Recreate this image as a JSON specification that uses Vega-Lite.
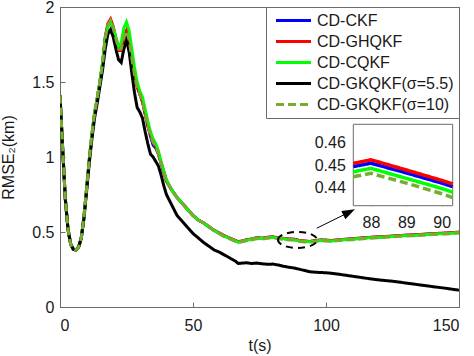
{
  "$schema": "https://vega.github.io/schema/vega-lite/v6.json",
  "width": 399,
  "height": 300,
  "autosize": {"type": "none"},
  "padding": {"left": 60, "top": 7, "right": 15, "bottom": 49},
  "config": {
    "font": "Liberation Sans",
    "view": {"stroke": "#6b6b6b", "strokeWidth": 1},
    "axis": {"grid": false, "domainColor": "#6b6b6b", "tickColor": "#6b6b6b", "labelColor": "#1a1a1a", "labelFontSize": 16, "titleFontSize": 16, "titleFontWeight": "normal", "titleColor": "#1a1a1a", "labelFont": "Liberation Sans", "titleFont": "Liberation Sans"},
    "legend": {"labelFont": "Liberation Sans", "labelFontSize": 16, "labelColor": "#1a1a1a"}
  },
  "datasets": {
    "main": [
      {"t":0,"b":1.41,"r":1.41,"g":1.41,"k":1.41,"o":1.41},
      {"t":1,"b":1.06,"r":1.06,"g":1.06,"k":1.05,"o":1.06},
      {"t":2,"b":0.72,"r":0.72,"g":0.72,"k":0.72,"o":0.72},
      {"t":3,"b":0.52,"r":0.52,"g":0.52,"k":0.52,"o":0.52},
      {"t":4,"b":0.42,"r":0.42,"g":0.42,"k":0.42,"o":0.42},
      {"t":5,"b":0.385,"r":0.385,"g":0.385,"k":0.385,"o":0.385},
      {"t":6,"b":0.38,"r":0.38,"g":0.38,"k":0.38,"o":0.38},
      {"t":7,"b":0.40,"r":0.40,"g":0.40,"k":0.40,"o":0.40},
      {"t":8,"b":0.46,"r":0.46,"g":0.46,"k":0.46,"o":0.46},
      {"t":9,"b":0.60,"r":0.60,"g":0.60,"k":0.59,"o":0.60},
      {"t":10,"b":0.79,"r":0.79,"g":0.79,"k":0.77,"o":0.79},
      {"t":11,"b":0.98,"r":0.98,"g":0.98,"k":0.96,"o":0.98},
      {"t":12,"b":1.15,"r":1.15,"g":1.15,"k":1.12,"o":1.15},
      {"t":13,"b":1.29,"r":1.29,"g":1.29,"k":1.26,"o":1.29},
      {"t":14,"b":1.39,"r":1.39,"g":1.39,"k":1.36,"o":1.39},
      {"t":15,"b":1.50,"r":1.50,"g":1.50,"k":1.47,"o":1.50},
      {"t":16,"b":1.62,"r":1.62,"g":1.63,"k":1.58,"o":1.62},
      {"t":17,"b":1.79,"r":1.80,"g":1.79,"k":1.72,"o":1.79},
      {"t":18,"b":1.88,"r":1.89,"g":1.87,"k":1.82,"o":1.88},
      {"t":19,"b":1.91,"r":1.92,"g":1.90,"k":1.85,"o":1.91},
      {"t":20,"b":1.86,"r":1.87,"g":1.86,"k":1.80,"o":1.86},
      {"t":21,"b":1.79,"r":1.79,"g":1.80,"k":1.72,"o":1.79},
      {"t":22,"b":1.72,"r":1.71,"g":1.74,"k":1.65,"o":1.72},
      {"t":23,"b":1.72,"r":1.71,"g":1.76,"k":1.63,"o":1.72},
      {"t":24,"b":1.80,"r":1.79,"g":1.86,"k":1.72,"o":1.80},
      {"t":25,"b":1.84,"r":1.84,"g":1.90,"k":1.78,"o":1.84},
      {"t":26,"b":1.78,"r":1.78,"g":1.84,"k":1.70,"o":1.78},
      {"t":27,"b":1.66,"r":1.66,"g":1.72,"k":1.56,"o":1.66},
      {"t":28,"b":1.55,"r":1.55,"g":1.60,"k":1.43,"o":1.55},
      {"t":29,"b":1.47,"r":1.47,"g":1.50,"k":1.33,"o":1.47},
      {"t":30,"b":1.42,"r":1.42,"g":1.44,"k":1.30,"o":1.42},
      {"t":31,"b":1.37,"r":1.37,"g":1.40,"k":1.26,"o":1.37},
      {"t":32,"b":1.29,"r":1.29,"g":1.32,"k":1.17,"o":1.29},
      {"t":33,"b":1.21,"r":1.21,"g":1.24,"k":1.09,"o":1.21},
      {"t":34,"b":1.14,"r":1.15,"g":1.17,"k":1.02,"o":1.15},
      {"t":35,"b":1.08,"r":1.10,"g":1.12,"k":1.00,"o":1.10},
      {"t":36,"b":1.06,"r":1.07,"g":1.09,"k":0.97,"o":1.07},
      {"t":37,"b":1.02,"r":1.02,"g":1.04,"k":0.94,"o":1.02},
      {"t":38,"b":0.96,"r":0.96,"g":0.97,"k":0.88,"o":0.96},
      {"t":39,"b":0.90,"r":0.90,"g":0.91,"k":0.81,"o":0.90},
      {"t":40,"b":0.84,"r":0.84,"g":0.85,"k":0.75,"o":0.84},
      {"t":42,"b":0.78,"r":0.78,"g":0.78,"k":0.68,"o":0.78},
      {"t":44,"b":0.73,"r":0.73,"g":0.73,"k":0.61,"o":0.73},
      {"t":46,"b":0.69,"r":0.69,"g":0.69,"k":0.57,"o":0.69},
      {"t":48,"b":0.65,"r":0.65,"g":0.65,"k":0.53,"o":0.65},
      {"t":50,"b":0.61,"r":0.61,"g":0.61,"k":0.49,"o":0.61},
      {"t":52,"b":0.58,"r":0.58,"g":0.58,"k":0.46,"o":0.58},
      {"t":54,"b":0.56,"r":0.56,"g":0.56,"k":0.43,"o":0.56},
      {"t":56,"b":0.535,"r":0.535,"g":0.535,"k":0.405,"o":0.535},
      {"t":58,"b":0.51,"r":0.51,"g":0.51,"k":0.38,"o":0.51},
      {"t":60,"b":0.492,"r":0.493,"g":0.49,"k":0.365,"o":0.487},
      {"t":62,"b":0.472,"r":0.473,"g":0.47,"k":0.345,"o":0.467},
      {"t":64,"b":0.457,"r":0.458,"g":0.455,"k":0.325,"o":0.452},
      {"t":66,"b":0.442,"r":0.443,"g":0.44,"k":0.305,"o":0.437},
      {"t":67,"b":0.434,"r":0.435,"g":0.432,"k":0.29,"o":0.429},
      {"t":68,"b":0.438,"r":0.439,"g":0.436,"k":0.292,"o":0.433},
      {"t":70,"b":0.447,"r":0.448,"g":0.445,"k":0.295,"o":0.442},
      {"t":72,"b":0.452,"r":0.453,"g":0.45,"k":0.29,"o":0.447},
      {"t":74,"b":0.462,"r":0.463,"g":0.46,"k":0.293,"o":0.457},
      {"t":76,"b":0.457,"r":0.458,"g":0.455,"k":0.288,"o":0.452},
      {"t":78,"b":0.464,"r":0.465,"g":0.462,"k":0.285,"o":0.459},
      {"t":80,"b":0.467,"r":0.468,"g":0.465,"k":0.286,"o":0.462},
      {"t":82,"b":0.46,"r":0.461,"g":0.458,"k":0.28,"o":0.455},
      {"t":84,"b":0.457,"r":0.458,"g":0.455,"k":0.272,"o":0.452},
      {"t":86,"b":0.452,"r":0.453,"g":0.45,"k":0.265,"o":0.447},
      {"t":88,"b":0.451,"r":0.452,"g":0.4485,"k":0.26,"o":0.446},
      {"t":90,"b":0.442,"r":0.443,"g":0.44,"k":0.252,"o":0.437},
      {"t":92,"b":0.439,"r":0.44,"g":0.437,"k":0.243,"o":0.434},
      {"t":94,"b":0.436,"r":0.437,"g":0.434,"k":0.235,"o":0.431},
      {"t":96,"b":0.442,"r":0.443,"g":0.44,"k":0.232,"o":0.437},
      {"t":98,"b":0.446,"r":0.447,"g":0.444,"k":0.23,"o":0.441},
      {"t":100,"b":0.445,"r":0.446,"g":0.443,"k":0.228,"o":0.44},
      {"t":102,"b":0.442,"r":0.443,"g":0.44,"k":0.225,"o":0.437},
      {"t":105,"b":0.448,"r":0.449,"g":0.446,"k":0.218,"o":0.443},
      {"t":110,"b":0.454,"r":0.455,"g":0.452,"k":0.205,"o":0.449},
      {"t":115,"b":0.462,"r":0.463,"g":0.46,"k":0.192,"o":0.457},
      {"t":120,"b":0.467,"r":0.468,"g":0.465,"k":0.18,"o":0.462},
      {"t":125,"b":0.472,"r":0.473,"g":0.47,"k":0.172,"o":0.467},
      {"t":130,"b":0.478,"r":0.479,"g":0.476,"k":0.16,"o":0.473},
      {"t":135,"b":0.482,"r":0.483,"g":0.48,"k":0.148,"o":0.477},
      {"t":140,"b":0.488,"r":0.489,"g":0.486,"k":0.136,"o":0.483},
      {"t":145,"b":0.492,"r":0.493,"g":0.49,"k":0.125,"o":0.487},
      {"t":150,"b":0.498,"r":0.499,"g":0.496,"k":0.112,"o":0.493}
    ],
    "inset": [
      {"t":87.5,"b":0.4493,"r":0.4507,"g":0.4470,"o":0.4448},
      {"t":88,"b":0.4508,"r":0.4523,"g":0.4485,"o":0.4463},
      {"t":89,"b":0.4465,"r":0.4478,"g":0.4441,"o":0.4420},
      {"t":90,"b":0.4420,"r":0.4432,"g":0.4396,"o":0.4373},
      {"t":90.31,"b":0.4404,"r":0.4416,"g":0.4380,"o":0.4356}
    ]
  },
  "layer": [
    {
      "layer": [
        {
          "data": {"name": "main"},
          "transform": [{"fold": ["b", "r", "g", "k", "o"], "as": ["s", "v"]}],
          "mark": {"type": "line", "strokeWidth": 3, "clip": true},
          "encoding": {
            "x": {"field": "t", "type": "quantitative", "scale": {"domain": [0, 150], "nice": false, "zero": false},
                  "axis": {"values": [0, 50, 100, 150], "title": "t(s)", "tickSize": -5, "labelPadding": 15, "titlePadding": 4, "orient": "bottom"}},
            "y": {"field": "v", "type": "quantitative", "scale": {"domain": [0, 2], "nice": false},
                  "axis": {"values": [0, 0.5, 1, 1.5, 2], "format": "~g", "title": "RMSE₂(km)", "tickSize": -5, "labelPadding": 11, "titlePadding": 15, "orient": "left"}},
            "color": {"field": "s", "type": "nominal",
                      "scale": {"domain": ["b", "r", "g", "k", "o"], "range": ["#0000ff", "#ff0000", "#00ff00", "#000000", "#77ac30"]},
                      "legend": {"title": null, "orient": "top-right", "offset": 0, "symbolType": "M-0.5,0H4.5", "symbolSize": 196, "symbolStrokeWidth": 3, "symbolFillColor": "transparent", "labelOffset": 29, "rowPadding": 4, "padding": 5, "strokeColor": "#6b6b6b", "fillColor": "white", "cornerRadius": 0,
                                 "labelExpr": "datum.label == 'b' ? 'CD-CKF' : datum.label == 'r' ? 'CD-GHQKF' : datum.label == 'g' ? 'CD-CQKF' : datum.label == 'k' ? 'CD-GKQKF(σ=5.5)' : 'CD-GKQKF(σ=10)'"}},
            "strokeDash": {"field": "s", "type": "nominal",
                           "scale": {"domain": ["b", "r", "g", "k", "o"], "range": [[1, 0], [1, 0], [1, 0], [1, 0], [8, 4]]},
                           "legend": {"title": null}}
          }
        },
        {
          "data": {"values": [{"t": 89.3, "v": 0.447}]},
          "mark": {"type": "point", "shape": "M-1,0A1,0.41,0,1,1,1,0A1,0.41,0,1,1,-1,0Z", "size": 1521, "filled": false, "stroke": "#000000", "strokeWidth": 2, "strokeDash": [7, 5], "opacity": 1},
          "encoding": {"x": {"field": "t", "type": "quantitative"}, "y": {"field": "v", "type": "quantitative"}}
        },
        {
          "data": {"values": [{"t": 96.5, "v": 0.525, "t2": 108.7, "v2": 0.632}]},
          "mark": {"type": "rule", "stroke": "#000000", "strokeWidth": 1},
          "encoding": {"x": {"field": "t", "type": "quantitative"}, "y": {"field": "v", "type": "quantitative"}, "x2": {"field": "t2"}, "y2": {"field": "v2"}}
        },
        {
          "data": {"values": [{"t": 108.7, "v": 0.632}]},
          "mark": {"type": "point", "shape": "M1,0L-1,-0.7L-1,0.7Z", "size": 169, "filled": true, "fill": "#000000", "angle": 333.6, "opacity": 1},
          "encoding": {"x": {"field": "t", "type": "quantitative"}, "y": {"field": "v", "type": "quantitative"}}
        }
      ]
    },
    {
      "layer": [
        {
          "data": {"values": [{}]},
          "mark": {"type": "rect", "fill": "white", "stroke": "#6b6b6b", "strokeWidth": 1},
          "encoding": {
            "x": {"datum": 87.5, "type": "quantitative", "scale": {"domain": [87.5, 90.31], "range": [293.3, 392.7], "nice": false, "zero": false},
                  "axis": {"values": [88, 89, 90], "format": "d", "title": null, "orient": "bottom", "offset": -101.3, "tickSize": -4, "labelPadding": 13, "domain": false}},
            "x2": {"datum": 90.31},
            "y": {"datum": 0.432, "type": "quantitative", "scale": {"domain": [0.432, 0.468], "range": [198.7, 117.3], "nice": false, "zero": false},
                  "axis": {"values": [0.44, 0.45, 0.46], "format": ".2f", "title": null, "orient": "left", "offset": -293.3, "tickSize": -4, "labelPadding": 12, "domain": false}},
            "y2": {"datum": 0.468}
          }
        },
        {
          "data": {"name": "inset"},
          "transform": [{"fold": ["b", "r", "g", "o"], "as": ["s", "v"]}],
          "mark": {"type": "line", "strokeWidth": 3.5},
          "encoding": {
            "x": {"field": "t", "type": "quantitative"},
            "y": {"field": "v", "type": "quantitative"},
            "color": {"field": "s", "type": "nominal"},
            "strokeDash": {"field": "s", "type": "nominal"}
          }
        }
      ]
    }
  ],
  "resolve": {"scale": {"x": "independent", "y": "independent"}, "axis": {"x": "independent", "y": "independent"}}
}
